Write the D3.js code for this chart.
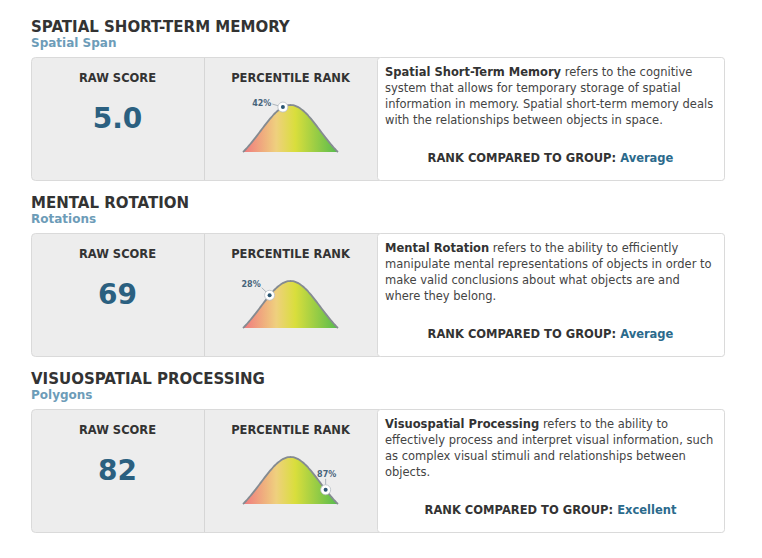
<!DOCTYPE html>
<html>
<head>
<meta charset="utf-8">
<script src="https://cdn.jsdelivr.net/npm/d3@7"></script>
<style>
  body { margin: 0; background: #fff; }
  svg text { font-family: "DejaVu Sans", Verdana, sans-serif; }
</style>
</head>
<body>
<div class="chart"></div>
<script>
var svgWidth = 762;
var svgHeight = 558;

// data
var sections = ["SPATIAL SHORT-TERM MEMORY", "MENTAL ROTATION", "VISUOSPATIAL PROCESSING"];
var tests = ["Spatial Span", "Rotations", "Polygons"];
var rawScores = ["5.0", "69", "82"];
var percentiles = [42, 28, 87];
var ranks = ["Average", "Average", "Excellent"];
var terms = ["Spatial Short-Term Memory", "Mental Rotation", "Visuospatial Processing"];
var descriptions = [
    ["refers to the cognitive",
     "system that allows for temporary storage of spatial",
     "information in memory. Spatial short-term memory deals",
     "with the relationships between objects in space."],
    ["refers to the ability to efficiently",
     "manipulate mental representations of objects in order to",
     "make valid conclusions about what objects are and",
     "where they belong."],
    ["refers to the ability to",
     "effectively process and interpret visual information, such",
     "as complex visual stimuli and relationships between",
     "objects."]
];

var left = 31, panelW = 693, panelH = 123;
var col1 = 173, col2 = 346;   // widths of raw score and percentile cells
var firstTop = 57, pitch = 176;

var svg = d3.select(".chart")
    .append("svg")
    .attr("width", svgWidth)
    .attr("height", svgHeight);

var defs = svg.append("defs");
var grad = defs.append("linearGradient").attr("id", "bellFill")
    .attr("x1", "0%").attr("x2", "100%").attr("y1", "0%").attr("y2", "0%");
[["0%", "#f0787f"], ["35%", "#efd07e"], ["55%", "#d9de3c"], ["100%", "#55bb4e"]].forEach(function(s) {
    grad.append("stop").attr("offset", s[0]).attr("stop-color", s[1]);
});

// bell curve geometry: percentile -> x, z -> height
var curveX0 = 212, curveX1 = 307, curveBase = 95, curveH = 47;
var zMax = 1.6;
var pctX = d3.scaleLinear().domain([0, 100]).range([curveX0, curveX1]);
var zX = d3.scaleLinear().domain([-zMax, zMax]).range([curveX0, curveX1]);
var tail = Math.exp(-zMax * zMax / 2);
function bell(z) { return (Math.exp(-z * z / 2) - tail) / (1 - tail); }
var yH = d3.scaleLinear().domain([0, 1]).range([curveBase, curveBase - curveH]);
var zs = d3.range(-zMax, zMax + 0.0001, 0.04);
var area = d3.area().x(function(z) { return zX(z); }).y0(curveBase).y1(function(z) { return yH(bell(z)); }).curve(d3.curveBasis);
var line = d3.line().x(function(z) { return zX(z); }).y(function(z) { return yH(bell(z)); }).curve(d3.curveBasis);
// leader direction for the percentile label (degrees from straight up, negative = left)
var leaderAngle = d3.scaleLinear().domain([25, 45, 55, 100]).range([-40, -80, 0, 0]).clamp(true);

sections.forEach(function(title, i) {
    var g = svg.append("g")
        .attr("transform", `translate(${left}, ${firstTop + i * pitch})`);

    g.append("text").attr("x", 0).attr("y", -25)
        .attr("font-size", "15px").attr("font-weight", "bold").attr("fill", "#333")
        .text(title);
    g.append("text").attr("x", 0).attr("y", -10)
        .attr("font-size", "12px").attr("font-weight", "bold").attr("fill", "#6d9cb8")
        .text(tests[i]);

    g.append("rect").attr("x", 0.5).attr("y", 0.5).attr("width", panelW).attr("height", panelH)
        .attr("rx", 4).attr("fill", "#ededed").attr("stroke", "#dadada");
    g.append("line").attr("x1", col1 + 0.5).attr("x2", col1 + 0.5).attr("y1", 1).attr("y2", panelH)
        .attr("stroke", "#d6d6d6");
    g.append("rect").attr("x", col2 + 0.5).attr("y", 0.5).attr("width", panelW - col2).attr("height", panelH)
        .attr("rx", 3).attr("fill", "#fff").attr("stroke", "#dadada");

    g.append("text").attr("x", col1 / 2).attr("y", 25).attr("text-anchor", "middle")
        .attr("font-size", "11.5px").attr("font-weight", "bold").attr("fill", "#333")
        .text("RAW SCORE");
    g.append("text").attr("x", col1 / 2).attr("y", 71).attr("text-anchor", "middle")
        .attr("font-size", "28px").attr("font-weight", "bold").attr("fill", "#2b6080")
        .text(rawScores[i]);

    g.append("text").attr("x", (col1 + col2) / 2).attr("y", 25).attr("text-anchor", "middle")
        .attr("font-size", "11.5px").attr("font-weight", "bold").attr("fill", "#333")
        .text("PERCENTILE RANK");

    // bell curve
    g.append("path").datum(zs).attr("d", area).attr("fill", "url(#bellFill)");
    g.append("path").datum(zs).attr("d", line).attr("fill", "none")
        .attr("stroke", "#858b91").attr("stroke-width", 1.8);

    var p = percentiles[i];
    var mx = pctX(p);
    var my = yH(bell(zX.invert(mx)));
    var a = leaderAngle(p) * Math.PI / 180;
    var lx = mx + 11 * Math.sin(a), ly = my - 11 * Math.cos(a);
    g.append("line").attr("x1", mx).attr("y1", my).attr("x2", lx).attr("y2", ly)
        .attr("stroke", "#9aa4ad").attr("stroke-width", 0.8);
    var side = p < 50;
    g.append("text")
        .attr("x", side ? lx - 1 : lx + 1)
        .attr("y", side ? ly + 3 - 5 * Math.cos(a) : ly - 2)
        .attr("text-anchor", side ? "end" : "middle")
        .attr("font-size", "8px").attr("font-weight", "bold").attr("fill", "#46637a")
        .text(p + "%");
    g.append("circle").attr("cx", mx).attr("cy", my).attr("r", 5)
        .attr("fill", "#fff").attr("stroke", "#b8bec4").attr("stroke-width", 0.8);
    g.append("circle").attr("cx", mx).attr("cy", my).attr("r", 2).attr("fill", "#2b5673");

    // description
    var desc = g.append("text").attr("x", col2 + 8).attr("y", 19)
        .attr("font-size", "11.5px").attr("fill", "#444");
    descriptions[i].forEach(function(l, j) {
        var t = desc.append("tspan").attr("x", col2 + 8).attr("y", 19 + j * 16);
        if (j === 0) {
            t.append("tspan").attr("font-weight", "bold").attr("fill", "#333").text(terms[i]);
            t.append("tspan").text(" " + l);
        } else {
            t.text(l);
        }
    });

    var rk = g.append("text").attr("x", col2 + (panelW - col2) / 2).attr("y", 105)
        .attr("text-anchor", "middle").attr("font-size", "11.5px").attr("font-weight", "bold");
    rk.append("tspan").attr("fill", "#333").text("RANK COMPARED TO GROUP: ");
    rk.append("tspan").attr("fill", "#2b6a8c").text(ranks[i]);
});
</script>
</body>
</html>
